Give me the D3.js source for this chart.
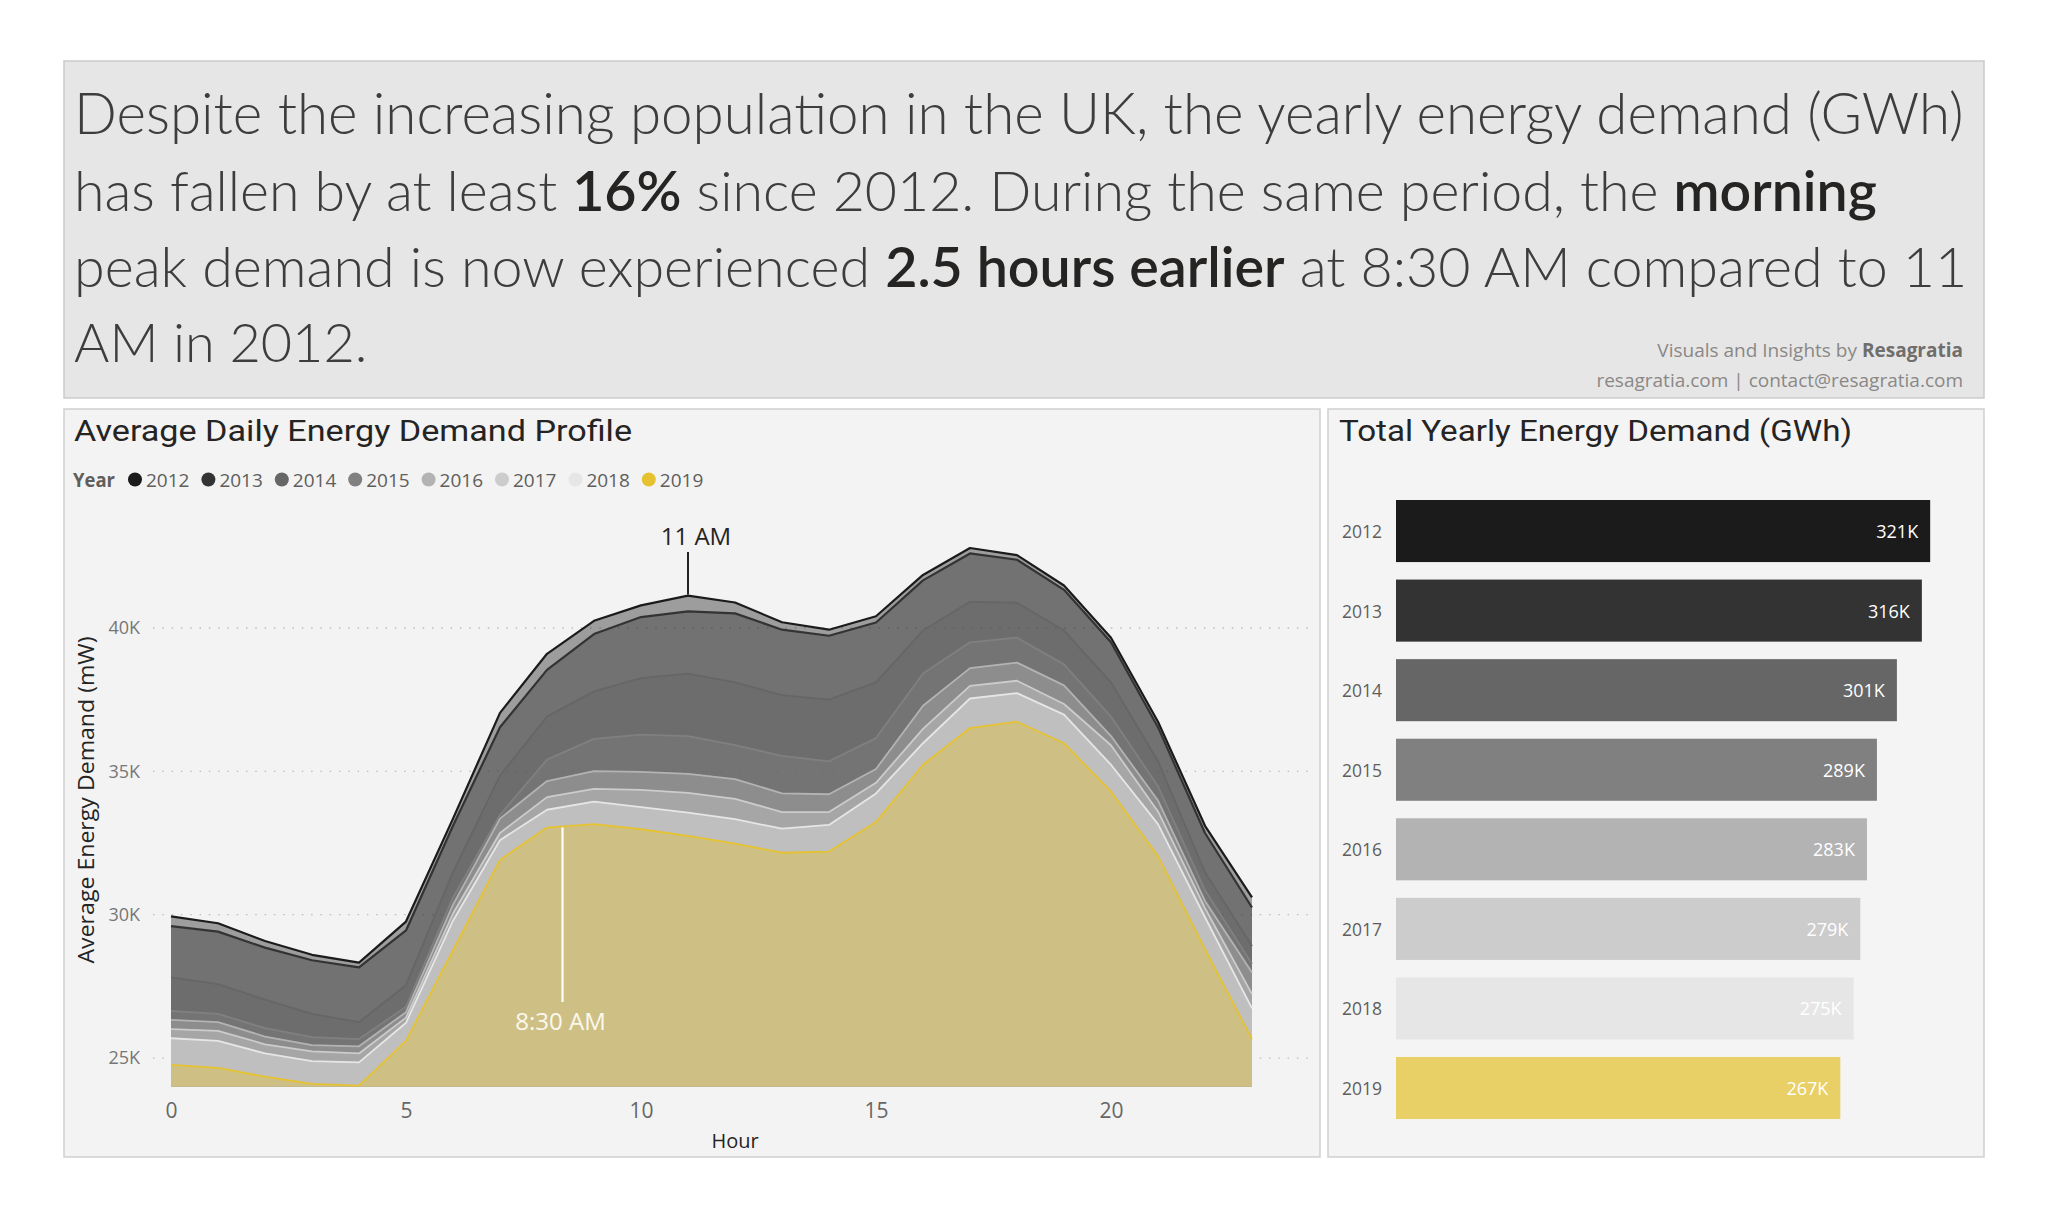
<!DOCTYPE html>
<html><head><meta charset="utf-8">
<script src="https://cdnjs.cloudflare.com/ajax/libs/d3/7.8.5/d3.min.js"></script>
<style>
html,body{margin:0;padding:0;background:#ffffff;}
svg{display:block;}
</style></head>
<body><svg id="c" width="2048" height="1215"></svg>
<script>
// ---------------- DATA ----------------
const hours = [0,1,2,3,4,5,6,7,8,9,10,11,12,13,14,15,16,17,18,19,20,21,22,23];
const years = ["2012","2013","2014","2015","2016","2017","2018","2019"];
const demand2012 = [29940,29700,29080,28600,28330,29760,33350,37040,39100,40250,40790,41130,40890,40200,39940,40410,41850,42790,42540,41480,39660,36730,33100,30600];
const demand2013 = [29600,29410,28850,28410,28160,29450,33100,36540,38540,39790,40380,40580,40510,39940,39730,40190,41660,42600,42380,41330,39500,36540,32850,30250];
const demand2014 = [27810,27580,27040,26540,26250,27540,31480,34850,36910,37790,38250,38410,38100,37660,37500,38100,39910,40910,40880,39910,38100,35350,31480,28910];
const demand2015 = [26640,26540,26040,25730,25660,26790,30600,33480,35410,36130,36280,36230,35910,35540,35350,36160,38410,39500,39660,38730,36910,34480,30850,28290];
const demand2016 = [26330,26250,25750,25450,25410,26600,30350,33350,34660,35010,34980,34910,34730,34230,34200,35080,37290,38600,38790,38000,36230,33980,30480,27980];
const demand2017 = [26010,25950,25480,25230,25160,26410,30040,32850,34100,34390,34350,34250,34040,33580,33580,34600,36480,37980,38160,37350,35910,33600,30230,27230];
const demand2018 = [25690,25600,25160,24890,24850,26230,29790,32600,33660,33940,33750,33560,33330,33000,33130,34230,35980,37540,37730,36980,35230,33160,29910,26730];
const demand2019 = [24760,24660,24350,24100,24040,25600,28760,31910,33040,33160,32980,32750,32480,32160,32200,33230,35230,36510,36730,35980,34290,32040,28790,25660];
const profiles = [demand2012,demand2013,demand2014,demand2015,demand2016,demand2017,demand2018,demand2019];
const yearlyTotals = [321000,316000,301000,289000,283000,279000,275000,267000];
const yTickValues = [25000,30000,35000,40000];
const xTickValues = [0,5,10,15,20];
const annotationLabels = ["11 AM","8:30 AM"];
const annotationHours = [11, 8.33];

// colours / styles (kept separate from data)
const seriesColors = ["#1b1b1b","#333333","#666666","#808080","#b3b3b3","#cccccc","#e6e6e6","#e6c230"];
const barColors    = ["#1b1b1b","#333333","#666666","#808080","#b3b3b3","#cccccc","#e6e6e6","#e8cf66"];

const svg = d3.select("#c");
const FS = "'Open Sans','Noto Sans',sans-serif";
const FL = "Lato,'Open Sans',sans-serif";
const FT = "Roboto,'Noto Sans',sans-serif";

function fit(sel, w){
  const n = sel.node().getComputedTextLength();
  if (Math.abs(n - w)/w > 0.02) sel.attr("textLength", w).attr("lengthAdjust","spacingAndGlyphs");
  return sel;
}

// ---------------- HEADER ----------------
svg.append("rect").attr("x",64).attr("y",61).attr("width",1920).attr("height",337)
  .attr("fill","#e6e6e6").attr("stroke","#cbcbcb").attr("stroke-width",1.5);

const headerLines = [
  [["Despite the increasing population in the UK, the yearly energy demand (GWh)",false]],
  [["has fallen by at least ",false],["16%",true],[" since 2012. During the same period, the ",false],["morning",true]],
  [["peak demand is now experienced ",false],["2.5 hours earlier",true],[" at 8:30 AM compared to 11",false]],
  [["AM in 2012.",false]]
];
const headerWidths = [1890,1803,1894,281];
const headerBase = [134,211,287,362];
headerLines.forEach((segs,i)=>{
  const t = svg.append("text").attr("x",74).attr("y",headerBase[i])
    .style("font-family",FL).style("font-size","60px").attr("fill","#3d3d3d");
  segs.forEach(s=>{
    t.append("tspan").text(s[0]).style("font-weight", s[1]?600:300).attr("fill", s[1]?"#252423":"#3d3d3d");
  });
  const n = t.node().getComputedTextLength();
  const fs = Math.max(54, Math.min(62, 60*headerWidths[i]/n));
  t.style("font-size", fs+"px");
});
const cr1 = svg.append("text").attr("x",1963).attr("y",357).attr("text-anchor","end")
  .style("font-family",FS).style("font-size","19px").attr("fill","#8a8886");
cr1.append("tspan").text("Visuals and Insights by ");
cr1.append("tspan").text("Resagratia").style("font-weight",700).attr("fill","#706e6c");
svg.append("text").attr("x",1963).attr("y",387).attr("text-anchor","end")
  .style("font-family",FS).style("font-size","19px").attr("fill","#8a8886")
  .text("resagratia.com | contact@resagratia.com");

// ---------------- LEFT PANEL ----------------
svg.append("rect").attr("x",64).attr("y",409).attr("width",1256).attr("height",748)
  .attr("fill","#f3f3f3").attr("stroke","#cfcfcf").attr("stroke-width",1.5);
fit(svg.append("text").attr("x",74).attr("y",441).style("font-family",FT).style("font-size","30px")
  .attr("fill","#252423").text("Average Daily Energy Demand Profile"), 558);

// legend
fit(svg.append("text").attr("x",73).attr("y",487).style("font-family",FS).style("font-size","19px")
  .style("font-weight",700).attr("fill","#605e5c").text("Year"), 42);
const lg = svg.append("g");
years.forEach((yr,i)=>{
  const cx = 135 + i*73.4;
  lg.append("circle").attr("cx",cx).attr("cy",479.5).attr("r",7).attr("fill",seriesColors[i]);
  lg.append("text").attr("x",cx+11).attr("y",487).style("font-family",FS).style("font-size","19px")
    .attr("fill","#605e5c").text(yr);
});

const x = d3.scaleLinear().domain([0,23]).range([171,1252]);
const y = d3.scaleLinear().domain([24000,44000]).range([1086.7,513.3]);

// gridlines
svg.append("g").selectAll("line").data(yTickValues).join("line")
  .attr("x1",153).attr("x2",1313).attr("y1",d=>y(d)).attr("y2",d=>y(d))
  .attr("stroke","#bdbdbd").attr("stroke-width",1.3).attr("stroke-dasharray","1.5,7.8");

// y axis
const yAx = svg.append("g").attr("transform","translate(150,0)")
  .call(d3.axisLeft(y).tickValues(yTickValues).tickFormat(d=>(d/1000)+"K").tickSize(0).tickPadding(10));
yAx.select(".domain").remove();
yAx.selectAll("text").style("font-family",FS).style("font-size","18px").attr("fill","#777777");

// x axis
const xAx = svg.append("g").attr("transform","translate(0,1086.7)")
  .call(d3.axisBottom(x).tickValues(xTickValues).tickSize(0).tickPadding(16));
xAx.select(".domain").remove();
xAx.selectAll("text").style("font-family",FS).style("font-size","21px").attr("fill","#666666");

svg.append("text").attr("x",735).attr("y",1148).attr("text-anchor","middle")
  .style("font-family",FS).style("font-size","20px").attr("fill","#252423").text("Hour");
fit(svg.append("text").attr("transform","translate(94,800) rotate(-90)").attr("text-anchor","middle")
  .style("font-family",FS).style("font-size","21px").attr("fill","#252423").text("Average Energy Demand (mW)"), 327);

// areas
const area = d3.area().x((d,i)=>x(hours[i])).y0(y(24000)).y1(d=>y(d));
const line = d3.line().x((d,i)=>x(hours[i])).y(d=>y(d));
const ag = svg.append("g");
profiles.forEach((p,i)=>{
  ag.append("path").datum(p).attr("d",area).attr("fill",seriesColors[i]).attr("fill-opacity",0.4);
});
profiles.forEach((p,i)=>{
  ag.append("path").datum(p).attr("d",line).attr("fill","none").attr("stroke",seriesColors[i])
    .attr("stroke-width", i<2?2.2:1.8).attr("stroke-linejoin","round");
});

// annotations
const h0 = annotationHours[0];
const v0 = d3.max(profiles, p=>p[hours.indexOf(h0)]);
svg.append("line").attr("x1",x(h0)).attr("x2",x(h0)).attr("y1",552).attr("y2",y(v0)-1)
  .attr("stroke","#252423").attr("stroke-width",2);
svg.append("text").attr("x",x(h0)+8).attr("y",545).attr("text-anchor","middle")
  .style("font-family",FS).style("font-size","24px").attr("fill","#252423").text(annotationLabels[0]);

const h1 = annotationHours[1];
const i1 = Math.floor(h1);
const v1 = demand2019[i1] + (demand2019[i1+1]-demand2019[i1])*(h1-i1);
svg.append("line").attr("x1",x(h1)).attr("x2",x(h1)).attr("y1",y(v1)+1).attr("y2",1002)
  .attr("stroke","#ffffff").attr("stroke-width",2.2);
svg.append("text").attr("x",x(h1)-2).attr("y",1030).attr("text-anchor","middle")
  .style("font-family",FS).style("font-size","24px").attr("fill","#fbf8ee").text(annotationLabels[1]);

// ---------------- RIGHT PANEL ----------------
svg.append("rect").attr("x",1328).attr("y",409).attr("width",656).attr("height",748)
  .attr("fill","#f4f4f5").attr("stroke","#cfcfcf").attr("stroke-width",1.5);
fit(svg.append("text").attr("x",1339).attr("y",441).style("font-family",FT).style("font-size","30px")
  .attr("fill","#252423").text("Total Yearly Energy Demand (GWh)"), 513);

const yb = d3.scaleBand().domain(years).range([491.25,1127.8]).paddingInner(0.22).paddingOuter(0.11);
const xb = d3.scaleLinear().domain([0,340000]).range([1396,1961.8]);
const bg = svg.append("g");
years.forEach((yr,i)=>{
  bg.append("rect").attr("x",xb(0)).attr("y",yb(yr)).attr("width",xb(yearlyTotals[i])-xb(0))
    .attr("height",yb.bandwidth()).attr("fill",barColors[i]);
  bg.append("text").attr("x",xb(yearlyTotals[i])-12).attr("y",yb(yr)+yb.bandwidth()/2+7)
    .attr("text-anchor","end").style("font-family",FS).style("font-size","18px").attr("fill","#ffffff")
    .text(Math.round(yearlyTotals[i]/1000)+"K");
  bg.append("text").attr("x",1382).attr("y",yb(yr)+yb.bandwidth()/2+7)
    .attr("text-anchor","end").style("font-family",FS).style("font-size","17.5px").attr("fill","#605e5c")
    .text(yr);
});
</script>
</body></html>
